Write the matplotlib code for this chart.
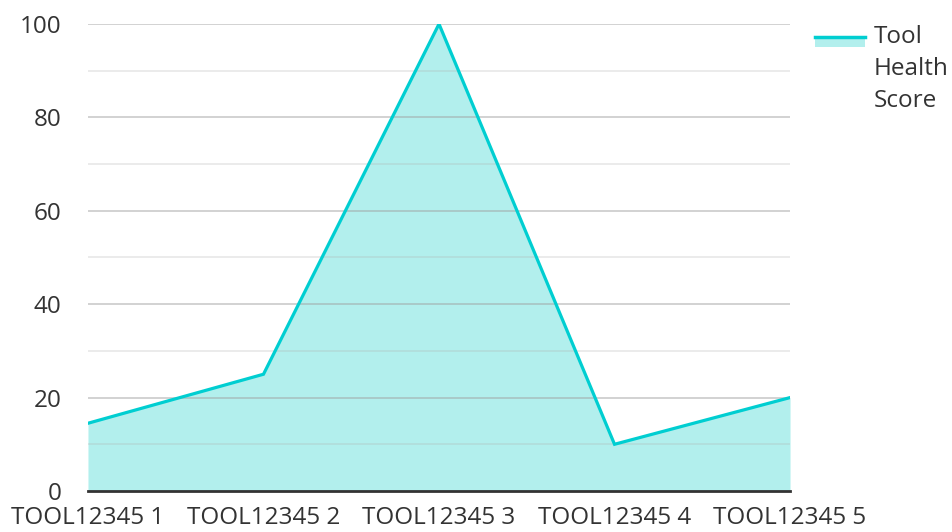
import matplotlib.pyplot as plt
from matplotlib.patches import Rectangle
from matplotlib.lines import Line2D

# Chart data
tools = ['TOOL12345 1', 'TOOL12345 2', 'TOOL12345 3', 'TOOL12345 4', 'TOOL12345 5']
health = [14.5, 25, 100, 10, 20]
series_name = 'Tool\nHealth\nScore'
major_ticks = [0, 20, 40, 60, 80, 100]
minor_ticks = [10, 30, 50, 70, 90]

line_color = '#00CED1'
fill_color = '#B2EFED'
text_color = '#333333'

plt.rcParams['font.family'] = ['Open Sans', 'DejaVu Sans']

fig = plt.figure(figsize=(9.53, 5.32), dpi=100)
ax = fig.add_axes([0.0923, 0.0771, 0.7367, 0.8778])

x = list(range(len(tools)))
ax.fill_between(x, health, 0, color=fill_color, lw=0, zorder=2)
ax.plot(x, health, color=line_color, lw=2.3, zorder=3, solid_joinstyle='miter')

# grid lines drawn over the fill, semi-transparent
for v in major_ticks[1:]:
    ax.axhline(v, color='#a0a0a0', lw=1.2, alpha=0.55, zorder=2.5)
for v in minor_ticks:
    ax.axhline(v, color='#b0b0b0', lw=1.2, alpha=0.3, zorder=2.5)

ax.set_xlim(0, len(tools) - 1)
ax.set_ylim(0, 100)
ax.set_yticks(major_ticks)
ax.set_xticks(x)
ax.set_xticklabels(tools)

for s in ['top', 'right', 'left']:
    ax.spines[s].set_visible(False)
ax.spines['bottom'].set_color(text_color)
ax.spines['bottom'].set_linewidth(2)
ax.spines['bottom'].set_zorder(4)

ax.tick_params(axis='both', which='both', length=0, labelsize=17.5, colors=text_color)
ax.tick_params(axis='y', pad=19)
ax.tick_params(axis='x', pad=11)

# legend, drawn by hand so the swatch sits beside the first line
fig.add_artist(Rectangle((815 / 953, 1 - 47 / 532), 50 / 953, 11 / 532,
                         transform=fig.transFigure, facecolor=fill_color, edgecolor='none'))
fig.add_artist(Line2D([815 / 953, 865 / 953], [1 - 37 / 532, 1 - 37 / 532],
                      transform=fig.transFigure, color=line_color, lw=2.5))
fig.text(874 / 953, 1 - 25 / 532, series_name, ha='left', va='top',
         fontsize=17.5, color=text_color, linespacing=1.45)

fig.savefig('out.png', dpi=100)
